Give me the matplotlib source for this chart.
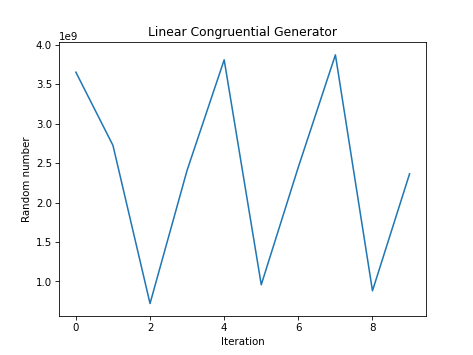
import matplotlib
matplotlib.use("Agg")
import matplotlib.pyplot as plt

iterations = list(range(10))
values = [3.653e9, 2.725e9, 0.72e9, 2.41e9, 3.81e9, 0.958e9, 2.45e9, 3.873e9, 0.881e9, 2.364e9]

fig, ax = plt.subplots(figsize=(6.4, 4.8))
ax.plot(iterations, values)
ax.set_title("Linear Congruential Generator")
ax.set_xlabel("Iteration")
ax.set_ylabel("Random number")
fig.savefig("out.png", dpi=74)
